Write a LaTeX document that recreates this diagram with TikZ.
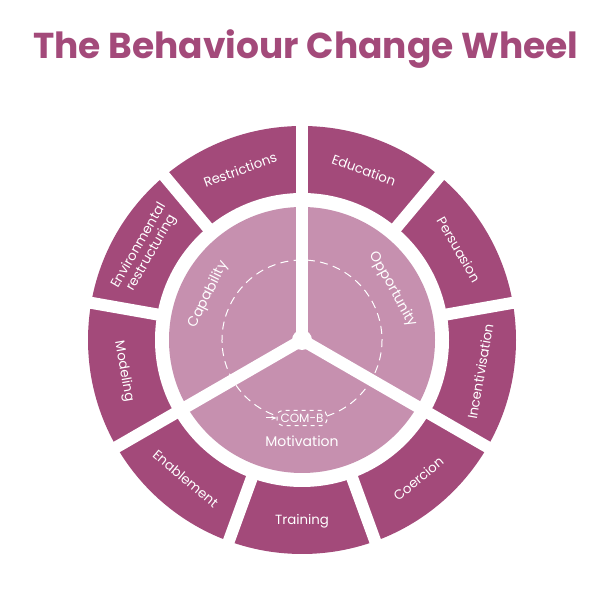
\documentclass[tikz,border=0pt]{standalone}
\usepackage{fontspec}
\setmainfont{Poppins}
\usetikzlibrary{arrows.meta}
\tikzset{every picture/.style={line width=0.75pt}}
\definecolor{wheelouter}{HTML}{A34A7A}
\definecolor{wheelinner}{HTML}{C690AF}
\tikzset{
  seglabel/.style={text=white,font=\fontsize{10}{11}\selectfont,align=center,inner sep=0.75pt},
  corelabel/.style={text=white,font=\fontsize{10.5}{12}\selectfont,inner sep=0.75pt},
  gapline/.style={white,line width=9pt},
}
\begin{document}
\begin{tikzpicture}[x=0.75pt,y=0.75pt]
\useasboundingbox (0,0) rectangle (600,600);

% Title
\node (title) at (306,551) [text=wheelouter,font=\bfseries\fontsize{27}{32}\selectfont] {The Behaviour Change Wheel};

\begin{scope}[shift={(302,260)}]
%Outer ring
\fill[wheelouter] (0,0) circle (214);
\fill[white] (0,0) circle (147);
\foreach \g in {90,130,...,410} \draw[gapline] (\g:140) -- (\g:220);

%Inner circle
\fill[wheelinner] (0,0) circle (133);
\foreach \g in {90,210,330} \draw[gapline] (0,0) -- (\g:140);
\fill[white] (0,0) circle (10);

%Dashed COM-B circle
\draw[white,dashed,dash pattern=on 6pt off 4pt] (-72:80) arc[start angle=-72,end angle=252,radius=80];

% Segment labels
\foreach \a/\txt/\r/\nm in {110/Restrictions/20/restr,70/Education/-20/educ,30/Persuasion/-60/pers,
  -10/Incentivisation/80/incent,-50/Coercion/40/coerc,-90/Training/0/train,
  230/Enablement/-40/enab,190/Modeling/-80/model,150/{Environmental\\restructuring}/60/envir}
  \node (\nm) at (\a:181) [seglabel,rotate=\r] {\txt};

% Core labels
\node (capab) at (154:104) [corelabel,rotate=64] {Capability};
\node (oppor) at (29:104) [corelabel,rotate=-61] {Opportunity};
\node (motiv) at (-90:101) [corelabel] {Motivation};
\node (comb) at (-90:78) [text=white,font=\fontsize{9}{10}\selectfont,draw=white,dashed,rounded corners=4pt,inner sep=2.5pt,fill=wheelinner] {COM-B};
\draw[white,-{Stealth[length=4pt]}] ([xshift=-8pt]comb.west) -- (comb.west);
\end{scope}

\end{tikzpicture}
\end{document}
